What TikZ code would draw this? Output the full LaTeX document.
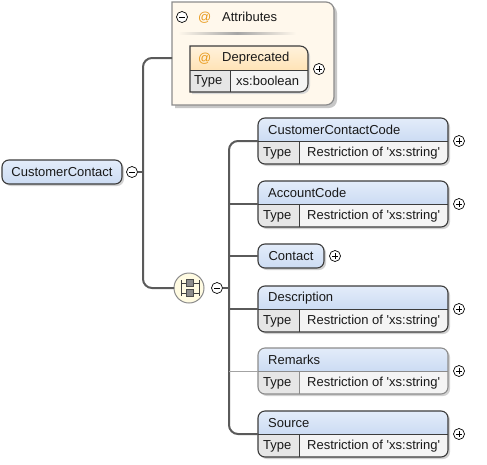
\documentclass[tikz,border=0pt]{standalone}
\usepackage{fontspec}
\setmainfont{Liberation Sans}
\usetikzlibrary{calc}
\definecolor{hdrA}{HTML}{E3ECFA}
\definecolor{hdrB}{HTML}{CCDCF3}
\definecolor{typeA}{HTML}{E6E6E6}
\definecolor{valA}{HTML}{F4F4F4}
\definecolor{attrbg}{HTML}{FFF8EC}
\definecolor{attrhA}{HTML}{FFF2DC}
\definecolor{attrhB}{HTML}{FFE3B6}
\definecolor{atcol}{HTML}{E89A1C}
\definecolor{bord}{HTML}{3C3C3C}
\definecolor{lbord}{HTML}{8C8C8C}
\definecolor{conncol}{HTML}{5A5A5A}
\definecolor{seqbg}{HTML}{FFFBE2}
\tikzset{
  txt/.style={font=\fontsize{13}{15}\selectfont, inner sep=0pt, text=black!90},
  conn/.style={draw=conncol, line width=2pt},
  thinconn/.style={draw=lbord!80, line width=0.8pt},
  pm/.style={circle, draw=black, line width=0.7pt, fill=white, minimum size=11pt, inner sep=0pt, outer sep=0pt},
  plusc/.style={pm, path picture={\draw[line width=0.7pt] ([xshift=-3pt]path picture bounding box.center) -- ([xshift=3pt]path picture bounding box.center) ([yshift=-3pt]path picture bounding box.center) -- ([yshift=3pt]path picture bounding box.center);}},
  minusc/.style={pm, path picture={\draw[line width=0.7pt] ([xshift=-3pt]path picture bounding box.center) -- ([xshift=3pt]path picture bounding box.center);}},
  elframe/.style={draw=#1, line width=1.1pt, rounded corners=7pt, minimum width=190pt, minimum height=46pt, inner sep=0pt, outer sep=0pt, anchor=north west},
}
% #1 name, #2 x, #3 y, #4 title, #5 border colour
\newcommand\elemtyped[5]{%
  \fill[black!18, rounded corners=7pt] (#2+2,#3+2) rectangle (#2+192,#3+48);
  \begin{scope}
    \clip[rounded corners=7pt] (#2,#3) rectangle (#2+190,#3+46);
    \shade[top color=hdrA, bottom color=hdrB] (#2,#3) rectangle (#2+190,#3+23);
    \fill[typeA] (#2,#3+23) rectangle (#2+41,#3+46);
    \fill[valA] (#2+41,#3+23) rectangle (#2+190,#3+46);
  \end{scope}
  \draw[#5, line width=1pt] (#2,#3+23) -- (#2+190,#3+23) (#2+41,#3+23) -- (#2+41,#3+46);
  \node[elframe=#5] (#1) at (#2,#3) {};
  \node[txt, anchor=west] (#1-t) at (#2+10,#3+12) {#4};
  \node[txt, anchor=west] (#1-k) at (#2+5,#3+35) {Type};
  \node[txt, anchor=west] (#1-v) at (#2+49,#3+35) {Restriction of \textquotesingle xs:string\textquotesingle};
  \node[plusc] (#1-p) at (#2+201,#3+23) {};
}
% right-rounded box: #1 x0, #2 y0, #3 x1, #4 y1, #5 radius
\newcommand\rrpath[5]{(#1,#2) -- (#3-#5,#2) arc[start angle=-90, end angle=0, radius=#5] -- (#3,#4-#5) arc[start angle=0, end angle=90, radius=#5] -- (#1,#4) -- cycle}
\begin{document}
\begin{tikzpicture}[x=1pt, y=-1pt]
\useasboundingbox (0,0) rectangle (487,464);
\fill[white] (0,0) rectangle (487,464);

% ---------- attributes box ----------
\fill[black!22] \rrpath{175}{5}{337}{108}{8};
\fill[attrbg] \rrpath{172}{2}{334}{105}{8};
\draw[lbord, line width=1.2pt] \rrpath{172}{2}{334}{105}{8};
\node[minusc] (attm) at (182,17) {};
\node[txt, text=atcol, anchor=west] (att1) at (198,18) {@};
\node[txt, anchor=west] (attt) at (222,17) {Attributes};
\shade[left color=attrbg, right color=attrbg, middle color=black!35] (178,32) rectangle (296,34);
\coordinate (attrw) at (172,58);

% Deprecated
\fill[black!15] \rrpath{192}{48}{310}{94}{8};
\begin{scope}
  \clip \rrpath{190}{46}{308}{92}{8};
  \shade[top color=attrhA, bottom color=attrhB] (190,46) rectangle (308,70);
  \fill[typeA] (190,70) rectangle (230,92);
  \fill[valA] (230,70) rectangle (308,92);
\end{scope}
\draw[bord, line width=1pt] (190,70) -- (308,70) (230,70) -- (230,92);
\draw[bord, line width=1.1pt] \rrpath{190}{46}{308}{92}{8};
\node[txt, text=atcol, anchor=west] (depat) at (198,59) {@};
\node[txt, anchor=west] (dept) at (222,58) {Deprecated};
\node[txt, anchor=west] (depk) at (194,81) {Type};
\node[txt, anchor=west] (depv) at (236,81) {xs:boolean};
\node[plusc] (depp) at (319,69) {};

% ---------- root ----------
\fill[black!18, rounded corners=7pt] (4,162) rectangle (124,186);
\node[draw=bord, line width=1.1pt, rounded corners=7pt, top color=hdrA, bottom color=hdrB, minimum width=120pt, minimum height=24pt, inner sep=0pt, outer sep=0pt] (root) at (62,172) {};
\node[txt] (roott) at (62,172) {CustomerContact};
\node[minusc] (rootm) at (132,172) {};

% ---------- sequence ----------
\node[circle, draw=lbord, line width=1pt, fill=seqbg, minimum size=30pt, inner sep=0pt, outer sep=0pt] (seq) at (189,288) {};
\draw[black!75, line width=0.9pt] (181,283) -- (199,283) (181,293) -- (199,293) (181,280) -- (181,296) (199,280) -- (199,296);
\fill[black!45] (186,279.5) rectangle (193,286.5) (186,289.5) rectangle (193,296.5);
\draw[black!70, line width=0.6pt] (186,279.5) rectangle (193,286.5) (186,289.5) rectangle (193,296.5);
\node[minusc] (seqm) at (217,288) {};

% ---------- children ----------
\elemtyped{ccc}{258}{118}{CustomerContactCode}{bord}
\elemtyped{acc}{258}{181}{AccountCode}{bord}
% Contact
\fill[black!18, rounded corners=7pt] (260,246) rectangle (326,270);
\node[draw=bord, line width=1.1pt, rounded corners=7pt, top color=hdrA, bottom color=hdrB, minimum width=66pt, minimum height=24pt, inner sep=0pt, outer sep=0pt, anchor=north west] (con) at (258,244) {};
\node[txt] (cont) at (291,256) {Contact};
\node[plusc] (conp) at (335,256) {};
\elemtyped{des}{258}{286}{Description}{bord}
\elemtyped{rem}{258}{348}{Remarks}{lbord}
\elemtyped{src}{258}{411}{Source}{bord}

% ---------- connectors ----------
\coordinate (sp1) at (143,172);
\coordinate (sp2) at (229,288);
\draw[conn] (rootm.east) -- (sp1);
\draw[conn, rounded corners=9pt] (attrw) -| (sp1) |- (seq.west);
\draw[conn] (seqm.east) -- (sp2);
\draw[conn, rounded corners=9pt] (ccc.west) -| (sp2) |- (src.west);
\draw[conn] (acc.west) -- (acc.west -| sp2);
\draw[conn] (con.west) -- (con.west -| sp2);
\draw[conn] (des.west) -- (des.west -| sp2);
\draw[thinconn] (rem.west) -- (rem.west -| sp2);
\end{tikzpicture}
\end{document}
